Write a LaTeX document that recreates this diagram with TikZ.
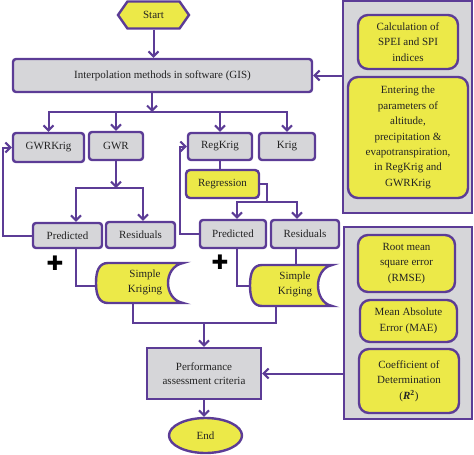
\documentclass[tikz,border=0pt]{standalone}
\usepackage{fontspec}
\setmainfont{Liberation Serif}
\newfontfamily\symfont{DejaVu Sans}
\usetikzlibrary{arrows.meta,shapes.symbols,shapes.geometric,calc}
\definecolor{pur}{RGB}{92,60,150}
\definecolor{boxgray}{RGB}{214,214,217}
\definecolor{yel}{RGB}{236,233,72}
\definecolor{txt}{RGB}{35,35,35}
\newcommand\kshape[5]{%
  \draw[draw=pur,line width=2.4pt,fill=yel,line join=miter]
    (#2,#3) -- ({#1+12},#3) .. controls ({#1+3},#3) and (#1,{#3+8}) .. (#1,{(#3+#4)/2})
    .. controls (#1,{#4-8}) and ({#1+3},#4) .. ({#1+12},#4) -- (#2,#4)
    .. controls ({#2-4*#5/3},{#4-4}) and ({#2-4*#5/3},{#3+4}) .. cycle;}
\begin{document}
\begin{tikzpicture}[x=1pt,y=-1pt,
  base/.style={draw=pur,line width=2.4pt,inner sep=1pt,text=txt,align=center,
    font=\fontsize{11}{15.4}\selectfont},
  gbox/.style={base,fill=boxgray,rounded corners=3pt},
  ybox/.style={base,fill=yel,rounded corners=4pt},
  ybig/.style={base,fill=yel,rounded corners=10pt},
  panel/.style={draw=pur,line width=2.4pt,fill=boxgray},
  conn/.style={draw=pur,line width=2pt},
  arr/.style={conn,-{Straight Barb[length=5pt,width=10pt]}},
  sktext/.style={text=txt,align=center,font=\fontsize{11}{15}\selectfont,inner sep=0pt},
  plus/.style={text=black,font=\symfont\fontsize{20}{20}\selectfont,inner sep=0pt}]
\useasboundingbox (0,0) rectangle (474,455);

% side panels
\node[panel,minimum width=129pt,minimum height=212pt] (panel1) at (407.5,107) {};
\node[panel,minimum width=128pt,minimum height=192pt] (panel2) at (408,323) {};
\node[ybig,minimum width=100pt,minimum height=54pt] (calc) at (408,42)
  {Calculation of\\SPEI and SPI\\indices};
\node[ybig,minimum width=120pt,minimum height=121pt] (enter) at (408,137.5)
  {Entering the\\parameters of\\altitude,\\precipitation \&\\evapotranspiration,\\in RegKrig and\\GWRKrig};
\node[ybig,minimum width=97pt,minimum height=57pt] (rmse) at (406.5,263.5)
  {Root mean\\square error\\(RMSE)};
\node[ybig,minimum width=97pt,minimum height=42pt] (mae) at (408.5,321)
  {Mean Absolute\\Error (MAE)};
\node[ybig,minimum width=100pt,minimum height=64pt] (coef) at (409,381)
  {Coefficient of\\Determination\\(\textbf{\textit{R}\textsuperscript{2}})};

% main flow
\node[base,fill=yel,signal,signal to=west and east,signal pointer angle=110,
  minimum width=71pt,minimum height=27pt] (start) at (153.5,15) {Start};
\node[gbox,minimum width=299pt,minimum height=33pt] (interp) at (162.5,75.5)
  {Interpolation methods in software (GIS)};
\node[gbox,minimum width=71pt,minimum height=29pt] (gwrkrig) at (48.5,147.5) {GWRKrig};
\node[gbox,minimum width=54pt,minimum height=28pt] (gwr) at (116,146) {GWR};
\node[gbox,minimum width=64pt,minimum height=27pt] (regkrig) at (220,146.5) {RegKrig};
\node[gbox,minimum width=56pt,minimum height=27pt] (krig) at (287,146.5) {Krig};
\node[ybox,minimum width=73pt,minimum height=28pt] (regression) at (222.5,184) {Regression};
\node[gbox,minimum width=69pt,minimum height=25pt] (pred1) at (67.5,235.5) {Predicted};
\node[gbox,minimum width=69pt,minimum height=26pt] (res1) at (140.5,235) {Residuals};
\node[gbox,minimum width=66pt,minimum height=28pt] (pred2) at (233,234) {Predicted};
\node[gbox,minimum width=68pt,minimum height=28pt] (res2) at (305,234) {Residuals};

\kshape{96}{183}{263}{303}{15}
\kshape{250}{332}{265}{306}{14}
\node[sktext] (sk1) at (145,282) {Simple\\Kriging};
\node[sktext] (sk2) at (295,284.5) {Simple\\Kriging};

\node[plus] (plus1) at (55,263) {✚};
\node[plus] (plus2) at (220,262) {✚};

\node[base,fill=boxgray,minimum width=114pt,minimum height=51pt,
  font=\fontsize{11}{14.5}\selectfont] (perf) at (204,373.5) {Performance\\assessment criteria};
\node[base,fill=yel,ellipse,minimum width=73pt,minimum height=35pt] (end) at (205.5,435.5) {End};

% coordinates
\coordinate (b0) at (152,112);
\coordinate (b1) at (116,188);
\coordinate (b2) at (267,202);
\coordinate (fb1) at (3,0);
\coordinate (fb2) at (180,0);
\coordinate (sk1L) at (96.5,286);
\coordinate (sk2L) at (250.5,286);
\coordinate (sk2T) at (0,265);
\coordinate (s1b) at (133,303);
\coordinate (s2b) at (276,306);
\coordinate (m) at (204,323);
\coordinate (p1s) at ($(pred1.south)+(8.5,0)$);
\coordinate (p2s) at ($(pred2.south)+(4,0)$);
\coordinate (r2s) at ($(res2.south)+(-9,0)$);

% connectors
\draw[arr] (start.south) -- (start.south |- interp.north);
\draw[arr] (interp.south -| b0) -- (b0);
\draw[arr] (b0) -| (gwrkrig.north);
\draw[arr] (b0) -| (gwr.north);
\draw[arr] (b0) -| (regkrig.north);
\draw[arr] (b0) -| (krig.north);

\draw[arr] (gwr.south) -- (b1);
\draw[arr] (b1) -| ($(pred1.north)+(8.5,0)$);
\draw[arr] (b1) -| ($(res1.north)+(2.5,0)$);

\draw[conn] (regkrig.south) -- (regkrig.south |- regression.north);
\draw[conn] (regression.east) -| (b2);
\draw[arr] (b2) -| ($(pred2.north)+(4,0)$);
\draw[arr] (b2) -| ($(res2.north)+(-8,0)$);

\draw[arr] (pred1.west) -- (pred1.west -| fb1) |- (gwrkrig.west);
\draw[arr] (pred2.west) -- (pred2.west -| fb2) |- (regkrig.west);

\draw[conn] (p1s) |- (sk1L);
\draw[conn] (p2s) |- (sk2L);
\draw[conn] (r2s) -- (r2s |- sk2T);

\draw[conn] (s1b) |- (m) -| (s2b);
\draw[arr] (m) -- (perf.north);
\draw[arr] (perf.south) -- (perf.south |- end.north);
\draw[arr] (panel2.west |- perf.east) -- (perf.east);
\draw[arr] (panel1.west |- interp.east) -- (interp.east);
\end{tikzpicture}
\end{document}
